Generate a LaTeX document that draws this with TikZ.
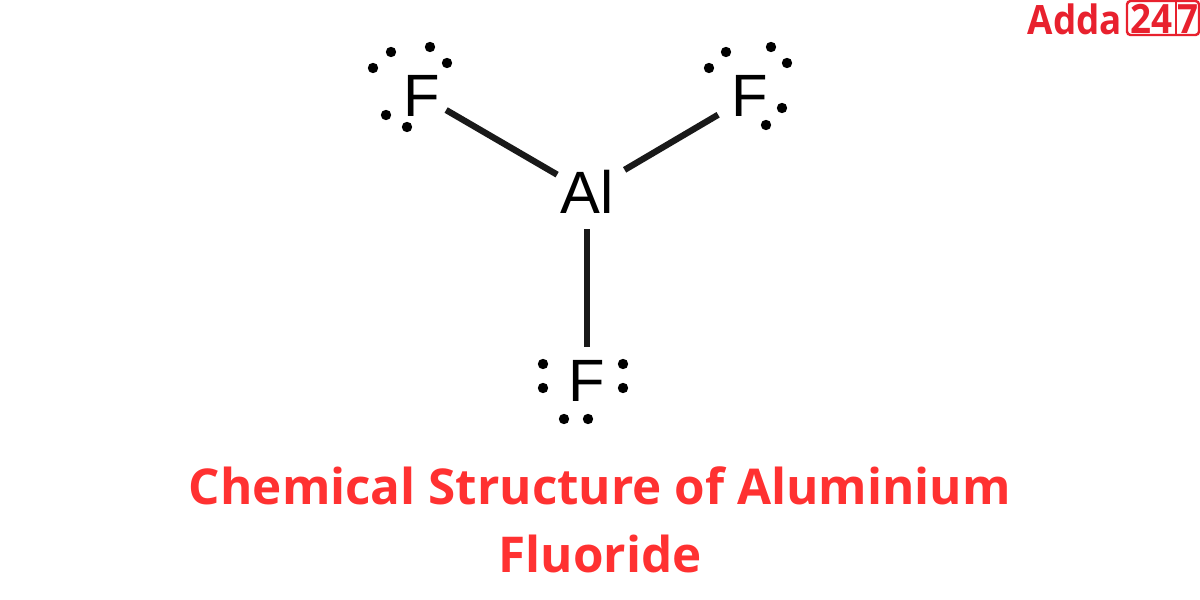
\documentclass[tikz,border=0pt]{standalone}
\usepackage{fontspec}
\setmainfont{Liberation Sans}
\newfontfamily\titlefont{Open Sans}
\newfontfamily\logofont[FakeStretch=0.91]{Open Sans}
\definecolor{titlered}{HTML}{FF3131}
\definecolor{logored}{HTML}{E8212E}
\tikzset{
  atom/.style = {font=\fontsize{17}{20}\selectfont, inner sep=0pt},
  bond/.style = {line width=1.8pt, color=black!90},
  logotext/.style = {font=\logofont\bfseries\fontsize{11.5}{14}\selectfont, color=logored, inner sep=0pt}
}
\begin{document}
\begin{tikzpicture}
\useasboundingbox (0, 0) rectangle (12, 6);
% atoms
\node[atom] (fleft) at (4.22, 5.04) {F};
\node[atom] (fright) at (7.50, 5.04) {F};
\node[atom] (al) at (5.87, 4.08) {Al};
\node[atom] (fbottom) at (5.87, 2.19) {F};
% bonds
\draw[bond, shorten <=0.06cm, shorten >=0.03cm] (fleft) to (al);
\draw[bond, shorten <=0.15cm, shorten >=0.12cm] (fright) to (al);
\draw[bond, xshift=0.01cm, shorten <=0.15cm, shorten >=0.13cm] (al) to (fbottom);
% lone pairs
\foreach \x/\y in {3.73/5.32, 3.91/5.48, 4.30/5.53, 4.47/5.37, 3.86/4.85, 4.07/4.73,
  7.09/5.32, 7.26/5.48, 7.71/5.53, 7.87/5.37, 7.82/4.92, 7.66/4.75,
  5.43/2.36, 5.43/2.12, 6.23/2.36, 6.23/2.12, 5.64/1.81, 5.88/1.81}
  \fill (\x, \y) circle (0.052);
% title
\node[align=center, color=titlered, font=\titlefont\bfseries\fontsize{14.05}{19.4}\selectfont] (title) at (6.00, 0.80)
  {Chemical Structure of Aluminium\\Fluoride};
% logo
\node[logotext] (adda) at (10.75, 5.81) {Adda};
\draw[rounded corners=1pt, color=logored, line width=0.7pt] (11.27, 5.65) rectangle (11.99, 5.99);
\draw[color=logored, line width=0.7pt] (11.76, 5.65) to (11.76, 5.99);
\node[logotext] (twofour) at (11.515, 5.81) {24};
\node[logotext] (seven) at (11.88, 5.81) {7};
\end{tikzpicture}
\end{document}
